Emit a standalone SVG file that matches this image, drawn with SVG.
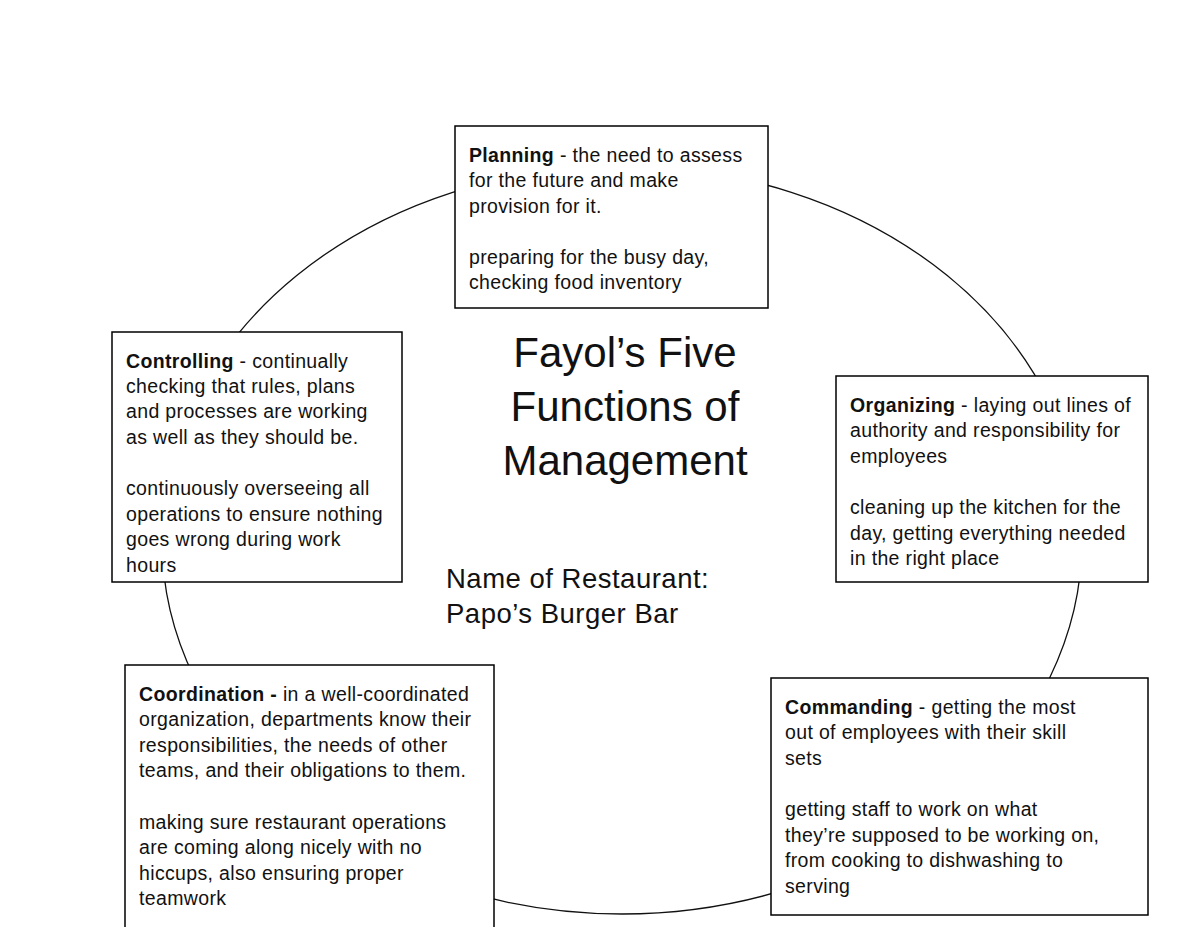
<svg xmlns="http://www.w3.org/2000/svg" width="1200" height="927" viewBox="0 0 1200 927">
<style>
.box{fill:#fff;stroke:#000;stroke-width:1.5}
.t{font-family:"Liberation Sans",Arial,sans-serif;font-size:19.5px;letter-spacing:0.35px;fill:#111}
.b{font-weight:bold}
.big{font-family:"Liberation Sans",Arial,sans-serif;font-size:42px;fill:#111;text-anchor:middle}
.mid{font-family:"Liberation Sans",Arial,sans-serif;font-size:27.5px;letter-spacing:0.5px;fill:#111}
</style>
<rect width="1200" height="927" fill="#fff"/>
<g id="connectors"><ellipse cx="622" cy="540" rx="460" ry="374" fill="none" stroke="#111" stroke-width="1.3"/></g>
<g id="planning"><rect class="box" x="455" y="126" width="313" height="182"/>
<text class="t" x="469" y="162"><tspan class="b">Planning</tspan> - the need to assess</text>
<text class="t" x="469" y="187">for the future and make</text>
<text class="t" x="469" y="213">provision for it.</text>
<text class="t" x="469" y="264">preparing for the busy day,</text>
<text class="t" x="469" y="289">checking food inventory</text></g>
<g id="controlling"><rect class="box" x="112" y="332" width="290" height="250"/>
<text class="t" x="126" y="368"><tspan class="b">Controlling</tspan> - continually</text>
<text class="t" x="126" y="393">checking that rules, plans</text>
<text class="t" x="126" y="418">and processes are working</text>
<text class="t" x="126" y="444">as well as they should be.</text>
<text class="t" x="126" y="495">continuously overseeing all</text>
<text class="t" x="126" y="521">operations to ensure nothing</text>
<text class="t" x="126" y="546">goes wrong during work</text>
<text class="t" x="126" y="572">hours</text></g>
<g id="organizing"><rect class="box" x="836" y="376" width="312" height="206"/>
<text class="t" x="850" y="412"><tspan class="b">Organizing</tspan> - laying out lines of</text>
<text class="t" x="850" y="437">authority and responsibility for</text>
<text class="t" x="850" y="463">employees</text>
<text class="t" x="850" y="514">cleaning up the kitchen for the</text>
<text class="t" x="850" y="540">day, getting everything needed</text>
<text class="t" x="850" y="565">in the right place</text></g>
<g id="coordination"><rect class="box" x="125" y="665" width="369" height="275"/>
<text class="t" x="139" y="701"><tspan class="b">Coordination -</tspan> in a well-coordinated</text>
<text class="t" x="139" y="726">organization, departments know their</text>
<text class="t" x="139" y="752">responsibilities, the needs of other</text>
<text class="t" x="139" y="777">teams, and their obligations to them.</text>
<text class="t" x="139" y="829">making sure restaurant operations</text>
<text class="t" x="139" y="854">are coming along nicely with no</text>
<text class="t" x="139" y="880">hiccups, also ensuring proper</text>
<text class="t" x="139" y="905">teamwork</text></g>
<g id="commanding"><rect class="box" x="771" y="678" width="377" height="237"/>
<text class="t" x="785" y="714"><tspan class="b">Commanding</tspan> - getting the most</text>
<text class="t" x="785" y="739">out of employees with their skill</text>
<text class="t" x="785" y="765">sets</text>
<text class="t" x="785" y="816">getting staff to work on what</text>
<text class="t" x="785" y="842">they’re supposed to be working on,</text>
<text class="t" x="785" y="867">from cooking to dishwashing to</text>
<text class="t" x="785" y="893">serving</text></g>
<g id="title"><text class="big" x="625" y="367">Fayol’s Five</text>
<text class="big" x="625" y="421">Functions of</text>
<text class="big" x="625" y="475">Management</text></g>
<g id="name"><text class="mid" x="446" y="588">Name of Restaurant:</text>
<text class="mid" x="446" y="623">Papo’s Burger Bar</text></g>
</svg>
